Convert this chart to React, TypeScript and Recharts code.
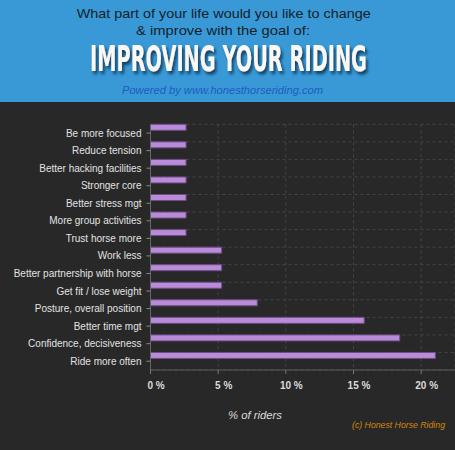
import React from 'react';
import { BarChart, Bar, XAxis, YAxis, CartesianGrid } from 'recharts';

const categories = [
  'Be more focused',
  'Reduce tension',
  'Better hacking facilities',
  'Stronger core',
  'Better stress mgt',
  'More group activities',
  'Trust horse more',
  'Work less',
  'Better partnership with horse',
  'Get fit / lose weight',
  'Posture, overall position',
  'Better time mgt',
  'Confidence, decisiveness',
  'Ride more often',
];
const percentRiders = [2.63, 2.63, 2.63, 2.63, 2.63, 2.63, 2.63, 5.26, 5.26, 5.26, 7.89, 15.79, 18.42, 21.05];
const xTicks = [0, 5, 10, 15, 20];
const xMax = 22.5;

const headerLine1 = 'What part of your life would you like to change';
const headerLine2 = '& improve with the goal of:';
const titleText = 'IMPROVING YOUR RIDING';
const poweredText = 'Powered by www.honesthorseriding.com';
const axisTitle = '% of riders';
const copyrightText = '(c) Honest Horse Riding';

const data = categories.map((name, i) => ({ name, value: percentRiders[i] }));

const SANS = '"Liberation Sans", Arial, sans-serif';

const bandEdges = (props: any) => {
  const { yAxis, offset } = props || {};
  const scale = yAxis && yAxis.scale;
  if (scale && typeof scale === 'function' && typeof scale.domain === 'function' && typeof scale.bandwidth === 'function') {
    const dom = scale.domain();
    const starts = dom.map((d: any) => scale(d));
    return [...starts, starts[starts.length - 1] + scale.bandwidth()];
  }
  const n = categories.length;
  const out: number[] = [];
  for (let i = 0; i <= n; i++) out.push(offset.top + (i * offset.height) / n);
  return out;
};

const XTick = (props: any) => {
  const { x, y, payload } = props;
  return (
    <text
      x={x + 5.5}
      y={y}
      dy="0.71em"
      textAnchor="middle"
      fill="#dcdcdc"
      fontSize={10}
      fontWeight="bold"
      fontFamily={SANS}
    >
      {`${payload.value} %`}
    </text>
  );
};

const YTick = (props: any) => {
  const { x, y, payload } = props;
  return (
    <text x={x} y={y} dy="0.355em" textAnchor="end" fill="#e2e2e2" fontSize={10} fontFamily={SANS}>
      {payload.value}
    </text>
  );
};

export default function App() {
  return (
    <div
      style={{
        position: 'absolute',
        left: 0,
        top: 0,
        width: 455,
        height: 450,
        background: '#282828',
        overflow: 'hidden',
      }}
    >
      <svg width={455} height={102} style={{ position: 'absolute', left: 0, top: 0 }}>
        <defs>
          <filter id="titleShadow" x="-5%" y="-30%" width="115%" height="170%">
            <feDropShadow dx="2" dy="3" stdDeviation="1.4" floodColor="#0f3656" floodOpacity="0.9" />
          </filter>
        </defs>
        <rect x={0} y={0} width={455} height={102} fill="#3999d7" />
        <text x={223.7} y={18} textAnchor="middle" fontFamily={SANS} fontSize={13} fill="#141e2a" textLength={294} lengthAdjust="spacingAndGlyphs">
          {headerLine1}
        </text>
        <text x={223} y={35} textAnchor="middle" fontFamily={SANS} fontSize={13} fill="#141e2a" textLength={174} lengthAdjust="spacingAndGlyphs">
          {headerLine2}
        </text>
        <text
          x={228.5}
          y={71.3}
          textAnchor="middle"
          fontFamily='"Liberation Sans Narrow", "DejaVu Sans Condensed", "Liberation Sans", sans-serif'
          fontWeight="bold"
          fontSize={36}
          fill="#faf8f2"
          textLength={277}
          lengthAdjust="spacingAndGlyphs"
          filter="url(#titleShadow)"
        >
          {titleText}
        </text>
        <text x={222.5} y={94} textAnchor="middle" fontFamily={SANS} fontStyle="italic" fontSize={11} fill="#1d5cc0" textLength={201} lengthAdjust="spacingAndGlyphs">
          {poweredText}
        </text>
      </svg>
      <div style={{ position: 'absolute', left: 0, top: 102 }}>
        <BarChart
          width={455}
          height={348}
          data={data}
          layout="vertical"
          margin={{ top: 22.3, right: 0, bottom: 50, left: 0 }}
          barGap={0}
        >
          <CartesianGrid stroke="#454545" strokeDasharray="3 3" horizontalCoordinatesGenerator={bandEdges} />
          <XAxis
            type="number"
            domain={[0, xMax]}
            ticks={xTicks}
            height={30}
            tickSize={4}
            tickMargin={8}
            axisLine={{ stroke: '#5c5c5c' }}
            tickLine={{ stroke: '#777' }}
            tick={<XTick />}
            allowDataOverflow
          />
          <YAxis
            type="category"
            dataKey="name"
            width={150.5}
            tickSize={4}
            tickMargin={5}
            interval={0}
            axisLine={{ stroke: '#666' }}
            tickLine={{ stroke: '#888' }}
            tick={<YTick />}
          />
          <Bar dataKey="value" barSize={6} fill="#b98bd8" stroke="#6c4d88" strokeWidth={1} isAnimationActive={false} />
          <Bar dataKey="spacer" barSize={11} fill="none" isAnimationActive={false} />
        </BarChart>
      </div>
      <svg width={455} height={450} style={{ position: 'absolute', left: 0, top: 0, pointerEvents: 'none' }}>
        <text x={255} y={418.5} textAnchor="middle" fontFamily={SANS} fontStyle="italic" fontSize={11.5} fill="#dcdcdc" textLength={54} lengthAdjust="spacingAndGlyphs">
          {axisTitle}
        </text>
        <text x={445} y={427.5} textAnchor="end" fontFamily={SANS} fontStyle="italic" fontSize={9} fill="#d4860c" textLength={93} lengthAdjust="spacingAndGlyphs">
          {copyrightText}
        </text>
      </svg>
    </div>
  );
}
